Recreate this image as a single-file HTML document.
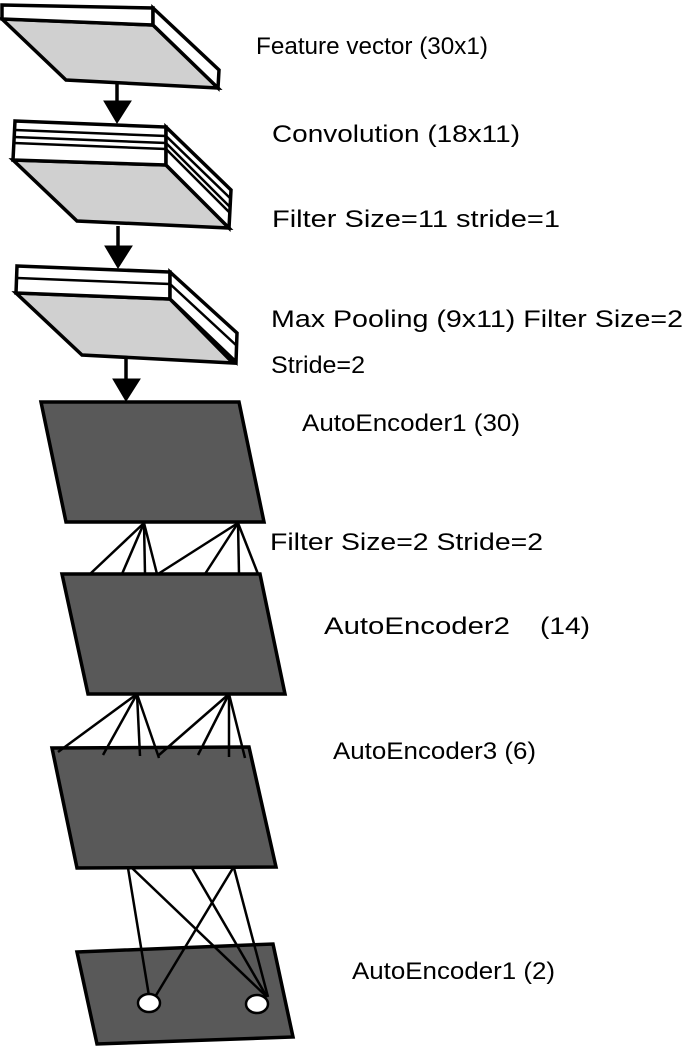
<!DOCTYPE html>
<html><head><meta charset="utf-8"><style>html,body{margin:0;padding:0;background:#fff}svg{display:block}</style></head>
<body>
<svg width="685" height="1046" viewBox="0 0 685 1046" xmlns="http://www.w3.org/2000/svg">
<g stroke="#000" stroke-width="3.5" stroke-linejoin="miter">
<polygon points="2,19 153,25 218,88 66,80" fill="#d0d0d0"/>
<polygon points="2,5 153,8 153,25 2,19" fill="#fff"/>
<polygon points="153,8 219,70 218,88 153,25" fill="#fff"/>
<line x1="117" y1="83" x2="117" y2="104"/>
<polygon points="104,101 131,101 117,123" fill="#000" stroke-width="1"/>
<polygon points="13,160 166,165 229,228 77,221" fill="#d0d0d0"/>
<polygon points="15,121 166,127 166,165 13,160" fill="#fff"/>
<polygon points="166,127 231,190 229,228 166,165" fill="#fff"/>
<polyline points="15,130 166,136 231,199" fill="none" stroke-width="2.5"/>
<polyline points="14,137 166,143 230,207" fill="none" stroke-width="2.5"/>
<polyline points="14,143 166,149 230,213" fill="none" stroke-width="2.5"/>
<line x1="118" y1="226" x2="118" y2="248"/>
<polygon points="105,246 132,246 118,268" fill="#000" stroke-width="1"/>
<polygon points="16,293 170,299 233,363 82,355" fill="#d0d0d0"/>
<polygon points="17,266 170,272 170,299 16,293" fill="#fff"/>
<polygon points="170,272 237,333 236,362 170,299" fill="#fff"/>
<polyline points="17,278 170,284 237,346" fill="none" stroke-width="2.5"/>
<line x1="126" y1="358" x2="126" y2="381"/>
<polygon points="113,379 140,379 126,401" fill="#000" stroke-width="1"/>
<polygon points="41,402 239,402 264,522 66,522" fill="#595959"/>
<polygon points="62,574 260,574 285,694 88,694" fill="#595959"/>
<g stroke-width="2.5">
<line x1="144" y1="523" x2="90" y2="574"/><line x1="144" y1="523" x2="122" y2="574"/>
<line x1="144" y1="523" x2="145" y2="574"/><line x1="144" y1="523" x2="157" y2="574"/>
<line x1="238" y1="523" x2="158" y2="574"/><line x1="238" y1="523" x2="205" y2="574"/>
<line x1="238" y1="523" x2="239" y2="574"/><line x1="238" y1="523" x2="258" y2="574"/>
</g>
<polygon points="52,748 249,747 276,867 77,868" fill="#595959"/>
<g stroke-width="2.5">
<line x1="137" y1="694" x2="58" y2="752"/><line x1="137" y1="694" x2="103" y2="755"/>
<line x1="137" y1="694" x2="140" y2="756"/><line x1="137" y1="694" x2="159" y2="758"/>
<line x1="229" y1="694" x2="159" y2="755"/><line x1="229" y1="694" x2="198" y2="755"/>
<line x1="229" y1="694" x2="229" y2="757"/><line x1="229" y1="694" x2="245" y2="758"/>
</g>
<polygon points="77,952 273,944 293,1037 97,1044" fill="#595959"/>
<g stroke-width="2.5">
<line x1="128" y1="868" x2="149" y2="996"/>
<line x1="132" y1="868" x2="267" y2="997"/>
<line x1="192" y1="868" x2="267" y2="997"/>
<line x1="233" y1="868" x2="155" y2="997"/>
<line x1="234" y1="868" x2="268" y2="997"/>
</g>
<ellipse cx="149" cy="1003" rx="11" ry="9" fill="#fff" stroke-width="2.5"/>
<ellipse cx="257" cy="1004" rx="11" ry="9" fill="#fff" stroke-width="2.5"/>
</g>
<g font-family="Liberation Sans, sans-serif" font-size="24" fill="#000">
<text x="256" y="54" textLength="232" lengthAdjust="spacingAndGlyphs">Feature vector (30x1)</text>
<text x="272" y="142" textLength="248" lengthAdjust="spacingAndGlyphs">Convolution (18x11)</text>
<text x="272" y="227" textLength="288" lengthAdjust="spacingAndGlyphs">Filter Size=11 stride=1</text>
<text x="271" y="327" textLength="412" lengthAdjust="spacingAndGlyphs">Max Pooling (9x11) Filter Size=2</text>
<text x="271" y="373" textLength="94" lengthAdjust="spacingAndGlyphs">Stride=2</text>
<text x="302" y="431" textLength="218" lengthAdjust="spacingAndGlyphs">AutoEncoder1 (30)</text>
<text x="270" y="550" textLength="273" lengthAdjust="spacingAndGlyphs">Filter Size=2 Stride=2</text>
<text x="324" y="634" textLength="186" lengthAdjust="spacingAndGlyphs">AutoEncoder2</text>
<text x="540" y="634" textLength="50" lengthAdjust="spacingAndGlyphs">(14)</text>
<text x="333" y="759" textLength="203" lengthAdjust="spacingAndGlyphs">AutoEncoder3 (6)</text>
<text x="352" y="979" textLength="203" lengthAdjust="spacingAndGlyphs">AutoEncoder1 (2)</text>
</g>
</svg>
</body></html>
